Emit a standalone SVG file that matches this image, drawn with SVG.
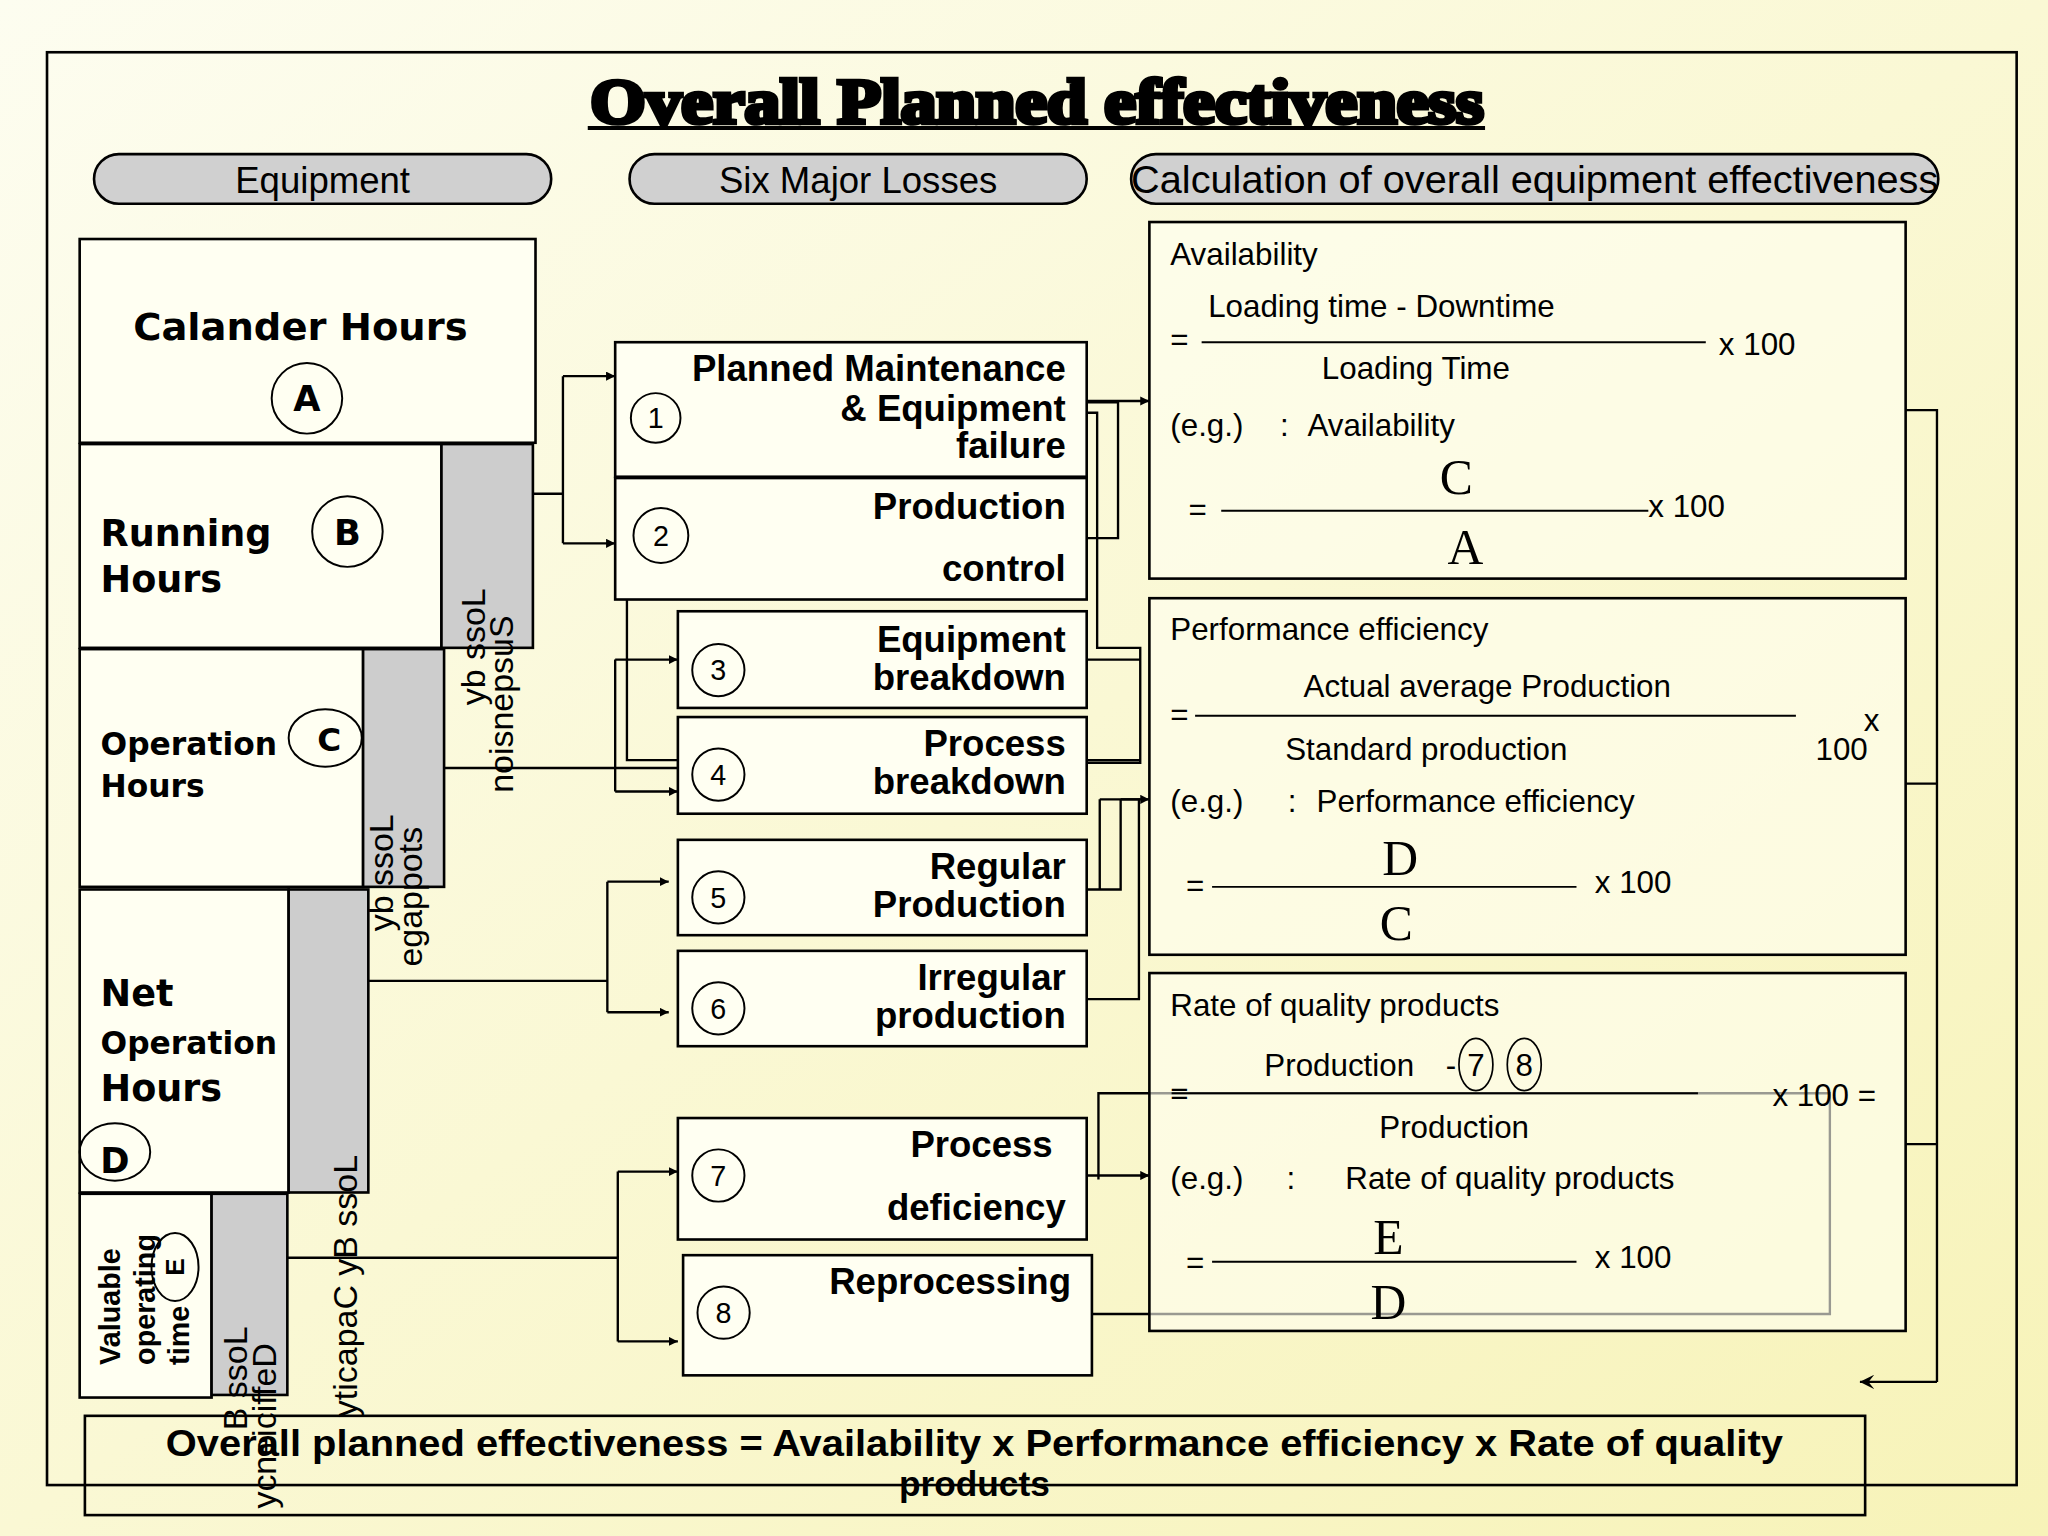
<svg xmlns="http://www.w3.org/2000/svg" width="2048" height="1536" viewBox="0 0 2048 1536">
<defs>
<linearGradient id="bg" x1="0" y1="0" x2="1" y2="1"><stop offset="0" stop-color="#fdfdf0"/><stop offset="1" stop-color="#f7f3b8"/></linearGradient>
<marker id="ar" viewBox="0 0 10 10" refX="10" refY="5" markerWidth="7" markerHeight="7" orient="auto" markerUnits="userSpaceOnUse"><path d="M0,0 L10,5 L0,10 z" fill="#000"/></marker>
<marker id="ar2" viewBox="0 0 10 10" refX="10" refY="5" markerWidth="11" markerHeight="11" orient="auto" markerUnits="userSpaceOnUse"><path d="M0,0 L10,5 L0,10 L4,5 z" fill="#000"/></marker>
</defs>
<style>
.b{fill:#fffff2;stroke:#000;stroke-width:2}
.g{fill:#cdcdcd;stroke:#000;stroke-width:2}
.p{fill:#d0d0d0;stroke:#000;stroke-width:2}
.c{fill:none;stroke:#000;stroke-width:1.8}
text{font-family:"Liberation Sans",Arial,sans-serif;fill:#000}
.ttl{font-family:"Liberation Serif",serif;font-weight:bold;font-size:48px;stroke:#000;stroke-width:3.5px}
.hb{font-family:"DejaVu Sans","Liberation Sans",sans-serif;font-weight:bold}
.lb{font-weight:bold;font-size:28px;text-anchor:end}
.s{font-family:"Liberation Serif",serif;font-size:38px;text-anchor:middle}
.m{font-size:24px}
.cn{font-size:22px;text-anchor:middle}
.mr{font-size:26px}
</style>
<rect width="2048" height="1536" fill="url(#bg)"/>
<g transform="scale(1.30612)">
<rect x="36" y="40" width="1508" height="1097" fill="none" stroke="#000" stroke-width="2"/>
<g id="title"><text x="452" y="94" class="ttl" textLength="684" lengthAdjust="spacingAndGlyphs">Overall Planned effectiveness</text><line x1="450" y1="98" x2="1137" y2="98" stroke="#000" stroke-width="3"/></g>
<g id="h1"><rect class="p" x="72" y="118" width="350" height="38" rx="19"/><text x="247" y="148" text-anchor="middle" font-size="28">Equipment</text></g>
<g id="h2"><rect class="p" x="482" y="118" width="350" height="38" rx="19"/><text x="657" y="148" text-anchor="middle" font-size="28">Six Major Losses</text></g>
<g id="h3"><rect class="p" x="866" y="118" width="618" height="38" rx="19"/><text x="866" y="148" font-size="29" textLength="618" lengthAdjust="spacingAndGlyphs">Calculation of overall equipment effectiveness</text></g>

<g id="connectors">
<path class="c" d="M408,378 H431 M431,288 V416" /><path class="c" d="M431,288 H471" marker-end="url(#ar)"/><path class="c" d="M431,416 H471" marker-end="url(#ar)"/>
<path class="c" d="M482,307 H880" marker-end="url(#ar)"/>
<path class="c" d="M832,308 H856 V412 H832 M832,316 H840 V496 H873 V584 H832 M832,505 H873"/>
<path class="c" d="M480,459 V582 H873"/>
<path class="c" d="M340,588 H519 M471,505 V606"/><path class="c" d="M471,505 H519" marker-end="url(#ar)"/><path class="c" d="M471,606 H519" marker-end="url(#ar)"/>
<path class="c" d="M832,681 H858 V612 M842,612 V681 M832,765 H872 V612 H842"/><path class="c" d="M858,612 H880" marker-end="url(#ar)"/>
<path class="c" d="M282,751 H465 M465,675 V775"/><path class="c" d="M465,675 H512" marker-end="url(#ar)"/><path class="c" d="M465,775 H512" marker-end="url(#ar)"/>
<path class="c" d="M220,963 H473 M473,897 V1027"/><path class="c" d="M473,897 H519" marker-end="url(#ar)"/><path class="c" d="M473,1027 H519" marker-end="url(#ar)"/>
<path class="c" d="M832,900 H880" marker-end="url(#ar)"/>
<path class="c" d="M841,903 V837 H1401 V1006 H836"/>
<path class="c" d="M1459,314 H1483 V1058 M1459,600 H1483 M1459,876 H1483"/><path class="c" d="M1483,1058 H1424" marker-end="url(#ar2)"/>
</g>

<g id="calander"><rect class="b" x="61" y="183" width="349" height="156"/><text x="102" y="260" class="hb" font-size="28" textLength="256" lengthAdjust="spacingAndGlyphs">Calander Hours</text><circle cx="235" cy="305" r="27" fill="none" stroke="#000" stroke-width="1.5"/><text x="235" y="315" text-anchor="middle" class="hb" font-size="27">A</text></g>
<g id="running"><rect class="b" x="61" y="340" width="277" height="156"/><rect class="g" x="338" y="340" width="70" height="156"/><text x="77" y="418" class="hb" font-size="28">Running</text><text x="77" y="453" class="hb" font-size="28">Hours</text><circle cx="266" cy="407" r="27" fill="none" stroke="#000" stroke-width="1.5"/><text x="266" y="417" text-anchor="middle" class="hb" font-size="27">B</text></g>
<g id="operation"><rect class="b" x="61" y="497" width="217" height="182"/><rect class="g" x="278" y="497" width="62" height="182"/><text x="77" y="578" class="hb" font-size="24">Operation</text><text x="77" y="610" class="hb" font-size="24">Hours</text><ellipse cx="249" cy="565" rx="28" ry="22" fill="none" stroke="#000" stroke-width="1.5"/><text x="252" y="575" text-anchor="middle" class="hb" font-size="25">C</text></g>
<g id="net"><rect class="b" x="61" y="681" width="160" height="232"/><rect class="g" x="221" y="681" width="61" height="232"/><text x="77" y="770" class="hb" font-size="28">Net</text><text x="77" y="807" class="hb" font-size="24">Operation</text><text x="77" y="843" class="hb" font-size="28">Hours</text><ellipse cx="88" cy="882" rx="27" ry="22" fill="none" stroke="#000" stroke-width="1.5"/><text x="88" y="898" text-anchor="middle" class="hb" font-size="27">D</text></g>
<g id="valuable"><rect class="b" x="61" y="914" width="101" height="156"/><rect class="g" x="162" y="914" width="58" height="154"/>
<text transform="translate(92,1045) rotate(-90)" font-weight="bold" font-size="22">Valuable</text><text transform="translate(119,1045) rotate(-90)" font-weight="bold" font-size="22">operating</text><text transform="translate(145,1045) rotate(-90)" font-weight="bold" font-size="22">time</text>
<ellipse cx="134" cy="970" rx="18" ry="26" fill="none" stroke="#000" stroke-width="1.5"/><text transform="translate(141,970) rotate(-90)" text-anchor="middle" font-weight="bold" font-size="20">E</text></g>

<g id="mirrored">
<text class="mr" transform="translate(371,540) rotate(-90)">yb ssoL</text>
<text class="mr" transform="translate(393,607) rotate(-90)">noisnepsuS</text>
<text class="mr" transform="translate(301,713) rotate(-90)">yb ssoL</text>
<text class="mr" transform="translate(323,740) rotate(-90)">egappots</text>
<text class="mr" transform="translate(273,1085) rotate(-90)">yticapaC yB ssoL</text>
<text class="mr" transform="translate(189,1095) rotate(-90)">B ssoL</text>
<text class="mr" transform="translate(211,1155) rotate(-90)">ycneiciffeD</text>
</g>

<g id="loss1"><rect class="b" x="471" y="262" width="361" height="103"/><text class="lb" x="816" y="292">Planned Maintenance</text><text class="lb" x="816" y="322">&amp; Equipment</text><text class="lb" x="816" y="351">failure</text><circle cx="502" cy="320" r="19" fill="none" stroke="#000" stroke-width="1.5"/><text class="cn" x="502" y="328">1</text></g>
<g id="loss2"><rect class="b" x="471" y="366" width="361" height="93"/><text class="lb" x="816" y="397">Production</text><text class="lb" x="816" y="445">control</text><circle cx="506" cy="410" r="21" fill="none" stroke="#000" stroke-width="1.5"/><text class="cn" x="506" y="418">2</text></g>
<g id="loss3"><rect class="b" x="519" y="468" width="313" height="74"/><text class="lb" x="816" y="499">Equipment</text><text class="lb" x="816" y="528">breakdown</text><circle cx="550" cy="513" r="20" fill="none" stroke="#000" stroke-width="1.5"/><text class="cn" x="550" y="521">3</text></g>
<g id="loss4"><rect class="b" x="519" y="549" width="313" height="74"/><text class="lb" x="816" y="579">Process</text><text class="lb" x="816" y="608">breakdown</text><circle cx="550" cy="593" r="20" fill="none" stroke="#000" stroke-width="1.5"/><text class="cn" x="550" y="601">4</text></g>
<g id="loss5"><rect class="b" x="519" y="643" width="313" height="73"/><text class="lb" x="816" y="673">Regular</text><text class="lb" x="816" y="702">Production</text><circle cx="550" cy="687" r="20" fill="none" stroke="#000" stroke-width="1.5"/><text class="cn" x="550" y="695">5</text></g>
<g id="loss6"><rect class="b" x="519" y="728" width="313" height="73"/><text class="lb" x="816" y="758">Irregular</text><text class="lb" x="816" y="787">production</text><circle cx="550" cy="772" r="20" fill="none" stroke="#000" stroke-width="1.5"/><text class="cn" x="550" y="780">6</text></g>
<g id="loss7"><rect class="b" x="519" y="856" width="313" height="93"/><text class="lb" x="806" y="886">Process</text><text class="lb" x="816" y="934">deficiency</text><circle cx="550" cy="900" r="20" fill="none" stroke="#000" stroke-width="1.5"/><text class="cn" x="550" y="908">7</text></g>
<g id="loss8"><rect class="b" x="523" y="961" width="313" height="92"/><text class="lb" x="820" y="991">Reprocessing</text><circle cx="554" cy="1005" r="20" fill="none" stroke="#000" stroke-width="1.5"/><text class="cn" x="554" y="1013">8</text></g>

<g id="avail"><rect class="b" x="880" y="170" width="579" height="273" fill-opacity="0.6"/>
<text class="m" x="896" y="203">Availability</text><text class="m" x="925" y="243">Loading time - Downtime</text><text class="m" x="896" y="268">=</text><line x1="920" y1="262" x2="1306" y2="262" stroke="#000" stroke-width="1.5"/><text class="m" x="1316" y="272">x 100</text><text class="m" x="1012" y="290">Loading Time</text><text class="m" x="896" y="334">(e.g.)</text><text class="m" x="980" y="334">:</text><text class="m" x="1001" y="334">Availability</text>
<text class="s" x="1115" y="378">C</text><text class="m" x="910" y="398">=</text><line x1="935" y1="391" x2="1262" y2="391" stroke="#000" stroke-width="1.5"/><text class="m" x="1262" y="396">x 100</text><text class="s" x="1122" y="432">A</text></g>
<g id="perf"><rect class="b" x="880" y="458" width="579" height="273" fill-opacity="0.6"/>
<text class="m" x="896" y="490">Performance efficiency</text><text class="m" x="998" y="534">Actual average Production</text><text class="m" x="896" y="555">=</text><line x1="915" y1="548" x2="1375" y2="548" stroke="#000" stroke-width="1.5"/><text class="m" x="1427" y="560">x</text><text class="m" x="1390" y="582">100</text><text class="m" x="984" y="582">Standard production</text><text class="m" x="896" y="622">(e.g.)</text><text class="m" x="986" y="622">:</text><text class="m" x="1008" y="622">Performance efficiency</text>
<text class="s" x="1072" y="670">D</text><text class="m" x="908" y="686">=</text><line x1="928" y1="679" x2="1207" y2="679" stroke="#000" stroke-width="1.5"/><text class="m" x="1221" y="684">x 100</text><text class="s" x="1069" y="720">C</text></g>
<g id="rate"><rect class="b" x="880" y="745" width="579" height="274" fill-opacity="0.6"/>
<text class="m" x="896" y="778">Rate of quality products</text><text class="m" x="968" y="824">Production</text><text class="m" x="1107" y="824">-</text><ellipse cx="1130" cy="815" rx="13" ry="20" fill="none" stroke="#000" stroke-width="1.3"/><text class="m" x="1130" y="824" text-anchor="middle">7</text><ellipse cx="1167" cy="815" rx="13" ry="20" fill="none" stroke="#000" stroke-width="1.3"/><text class="m" x="1167" y="824" text-anchor="middle">8</text>
<text class="m" x="896" y="845">=</text><line x1="897" y1="837" x2="1300" y2="837" stroke="#000" stroke-width="1.5"/><text class="m" x="1357" y="847">x 100 =</text><text class="m" x="1056" y="871">Production</text><text class="m" x="896" y="910">(e.g.)</text><text class="m" x="985" y="910">:</text><text class="m" x="1030" y="910">Rate of quality products</text>
<text class="s" x="1063" y="960">E</text><text class="m" x="908" y="975">=</text><line x1="928" y1="966" x2="1207" y2="966" stroke="#000" stroke-width="1.5"/><text class="m" x="1221" y="971">x 100</text><text class="s" x="1063" y="1010">D</text></g>

<g id="bottom"><rect x="65" y="1084" width="1363" height="76" fill="none" stroke="#000" stroke-width="2"/><text x="127" y="1115" font-weight="bold" font-size="28" textLength="1238" lengthAdjust="spacingAndGlyphs">Overall planned effectiveness = Availability x Performance efficiency x Rate of quality</text><text x="746" y="1145" text-anchor="middle" font-weight="bold" font-size="27">products</text></g>
</g>
</svg>
